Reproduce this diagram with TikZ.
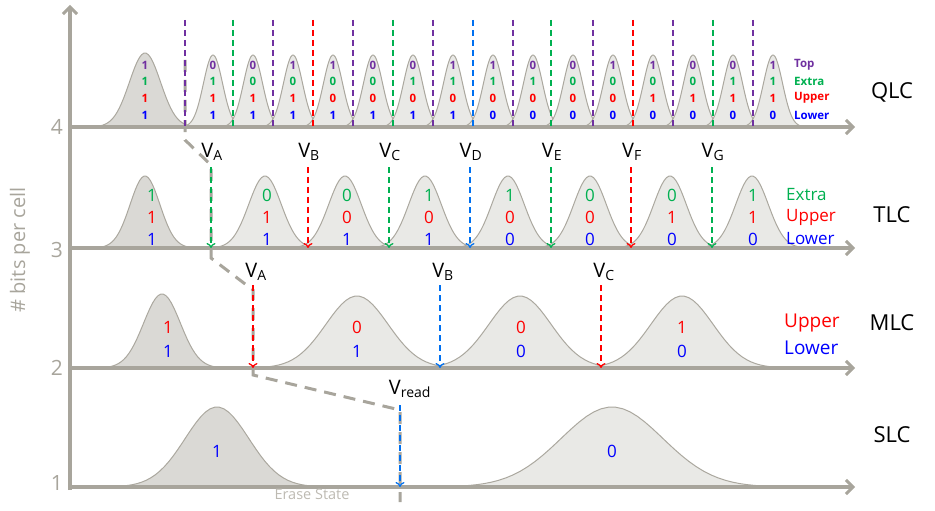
\documentclass[tikz,border=0pt]{standalone}
\usepackage{fontspec}
\setmainfont{Open Sans}
\usetikzlibrary{arrows.meta}
\definecolor{ax}{HTML}{A8A59C}
\definecolor{axl}{HTML}{BDBAB2}
\definecolor{pu}{HTML}{7030A0}
\definecolor{gr}{HTML}{00B050}
\definecolor{rd}{HTML}{FF0000}
\definecolor{bl}{HTML}{0000FF}
\definecolor{ab}{HTML}{0070F0}
\definecolor{bumpline}{HTML}{ABA89F}
\definecolor{darkfill}{HTML}{DAD9D5}
\definecolor{lightfill}{HTML}{E9E9E6}
\newcommand\mybump[5]{\filldraw[draw=bumpline,line width=1pt,fill=#5] plot[domain={#1-3*#4}:{#1+3*#4},samples=60] (\x,{#2-#3*exp(-((\x-#1)/#4)^2)});}
\tikzset{
 axisline/.style={ax,line width=4pt,-{Straight Barb[length=7pt,width=14pt,line width=3pt]}},
 qbit/.style={font=\fontsize{11.5}{12}\selectfont\bfseries,inner sep=0pt},
 tbit/.style={font=\fontsize{17}{17}\selectfont,inner sep=0pt},
 vlab/.style={font=\fontsize{20}{20}\selectfont,inner sep=0pt},
 cls/.style={font=\fontsize{22}{22}\selectfont,inner sep=0pt},
 qdash/.style={dashed,line width=1.3pt,dash pattern=on 6pt off 4pt},
 rdarr/.style={dashed,line width=1.3pt,dash pattern=on 6pt off 4pt,-{To[length=5pt,width=9pt]}},
 graypath/.style={ax,line width=3pt,dash pattern=on 12pt off 8pt},
 axnum/.style={ax,font=\fontsize{21}{21}\selectfont,inner sep=0pt},
}
\begin{document}
\begin{tikzpicture}[x=1pt,y=-1pt]
\useasboundingbox (0,0) rectangle (935,511);
% gray guide path
\coordinate (g0) at (185,60);
\coordinate (g1) at (185,140);
\coordinate (g2) at (211,165);
\coordinate (g3) at (211,258);
\coordinate (g4) at (253,290);
\coordinate (g5) at (253,375);
\coordinate (g6) at (400,410);
\coordinate (g7) at (400,502);
% QLC bumps
\mybump{145}{127}{74}{22}{darkfill}
\foreach \k in {0,...,14}{\pgfmathsetmacro\c{213+40*\k}\mybump{\c}{127}{72}{13.5}{lightfill}}
% TLC bumps
\mybump{145}{248}{72}{21}{darkfill}
\foreach \c in {265,345,425,508,590,670,752}{\mybump{\c}{248}{72}{23}{lightfill}}
% MLC bumps
\mybump{162}{368}{74}{26}{darkfill}
\foreach \c in {357,520,682}{\mybump{\c}{368}{72}{44}{lightfill}}
% SLC bumps
\mybump{217}{487}{80}{45}{darkfill}
\mybump{612}{487}{80}{72}{lightfill}
\draw[graypath] (g0) -- (g1) -- (g2) -- (g3) -- (g4) -- (g5) -- (g6) -- (g7);
% axes
\coordinate (o4) at (70,127); \coordinate (e4) at (855,127);
\coordinate (o3) at (70,248); \coordinate (e3) at (855,248);
\coordinate (o2) at (70,368); \coordinate (e2) at (855,368);
\coordinate (o1) at (70,487); \coordinate (e1) at (855,487);
\coordinate (ybot) at (70,490);
\coordinate (ytop) at (70,5);
\foreach \i in {1,2,3,4}{\draw[axisline] (o\i) -- (e\i);}
\draw[axisline] (ybot) -- (ytop);
\node[axnum] (n4) at (57,127) {4};
\node[axnum] (n3) at (57,250) {3};
\node[axnum] (n2) at (57,368) {2};
\node[axnum] (n1) at (57,483) {1};
\node[ax,rotate=90,font=\fontsize{20}{20}\selectfont] (ylab) at (20,250) {\# bits per cell};
% QLC dashed lines
\foreach \x/\cl [count=\n] in {185/pu,233/gr,273/pu,313/rd,353/pu,393/gr,433/pu,473/ab,513/pu,551/gr,593/pu,633/rd,673/pu,713/gr,753/pu}{
 \coordinate (qt\n) at (\x,20); \coordinate (qb\n) at (\x,127);
 \draw[qdash,\cl] (qt\n) -- (qb\n);}
% QLC bits
\foreach \c/\t/\e/\u/\l [count=\n] in {145/1/1/1/1,213/0/1/1/1,253/0/0/1/1,293/1/0/1/1,333/1/0/0/1,373/0/0/0/1,413/0/1/0/1,453/1/1/0/1,493/1/1/0/0,533/0/1/0/0,573/0/0/0/0,613/1/0/0/0,653/1/0/1/0,693/0/0/1/0,733/0/1/1/0,773/1/1/1/0}{
 \node[qbit,pu] (qa\n) at (\c,65) {\t};
 \node[qbit,gr] (qe\n) at (\c,81) {\e};
 \node[qbit,rd] (qu\n) at (\c,98) {\u};
 \node[qbit,bl] (ql\n) at (\c,115) {\l};}
\node[qbit,pu,anchor=west] (lt) at (794,65) {Top};
\node[qbit,gr,anchor=west] (le) at (794,81) {Extra};
\node[qbit,rd,anchor=west] (lu) at (794,98) {Upper};
\node[qbit,bl,anchor=west] (ll) at (794,115) {Lower};
\node[cls] (qlc) at (892,92) {QLC};
% TLC bits
\foreach \c/\e/\u/\l [count=\n] in {152/1/1/1,267/0/1/1,347/0/0/1,429/1/0/1,510/1/0/0,590/0/0/0,672/0/1/0,753/1/1/0}{
 \node[tbit,gr] (te\n) at (\c,195) {\e};
 \node[tbit,rd] (tu\n) at (\c,217) {\u};
 \node[tbit,bl] (tl\n) at (\c,239) {\l};}
\node[tbit,gr,anchor=west] (tle) at (786,195) {Extra};
\node[tbit,rd,anchor=west] (tlu) at (786,217) {Upper};
\node[tbit,bl,anchor=west] (tll) at (786,239) {Lower};
\node[cls] (tlc) at (892,215) {TLC};
% TLC read voltages
\foreach \x/\cl/\L [count=\n] in {211/gr/A,308/rd/B,389/gr/C,470/ab/D,551/gr/E,631/rd/F,712/gr/G}{
 \node[vlab] (tv\n) at (\x+1,152) {V\textsubscript{\L}};
 \coordinate (tt\n) at (\x,167);
 \coordinate (tb\n) at (\x,248);
 \draw[rdarr,\cl] (tt\n) -- (tb\n);}
% MLC
\foreach \c/\u/\l [count=\n] in {168/1/1,357/0/1,521/0/0,682/1/0}{
 \node[tbit,rd] (mu\n) at (\c,327) {\u};
 \node[tbit,bl] (ml\n) at (\c,351) {\l};}
\node[tbit,rd,anchor=west,font=\fontsize{19}{19}\selectfont] (mlu) at (784,323) {Upper};
\node[tbit,bl,anchor=west,font=\fontsize{19}{19}\selectfont] (mll) at (784,348) {Lower};
\node[cls] (mlc) at (892,323) {MLC};
\foreach \x/\cl/\L [count=\n] in {253/rd/A,440/ab/B,601/rd/C}{
 \node[vlab] (mv\n) at (\x+3,272) {V\textsubscript{\L}};
 \coordinate (mt\n) at (\x,285);
 \coordinate (mb\n) at (\x,368);
 \draw[rdarr,\cl] (mt\n) -- (mb\n);}
% SLC
\node[tbit,bl] (s1) at (217,451) {1};
\node[tbit,bl] (s0) at (612,451) {0};
\node[cls] (slc) at (892,435) {SLC};
\node[vlab] (vr) at (410,389) {V\textsubscript{read}};
\coordinate (st) at (400,405);
\coordinate (sb) at (400,487);
\draw[rdarr,ab] (st) -- (sb);
\node[axl,font=\fontsize{14.5}{14.5}\selectfont,inner sep=0pt] (es) at (312,494) {Erase State};
\end{tikzpicture}
\end{document}
